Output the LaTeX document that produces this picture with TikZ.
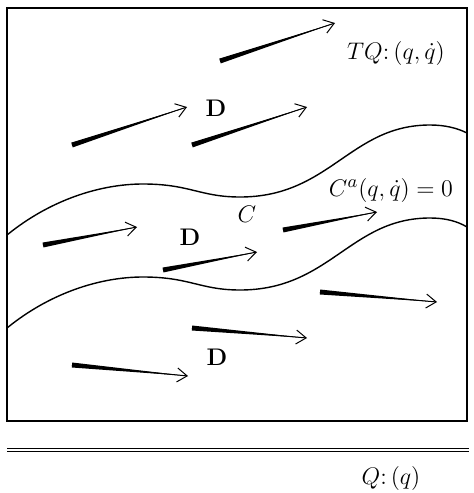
\documentclass[tikz,border=0pt]{standalone}
\usetikzlibrary{calc,arrows.meta}
\begin{document}
\begin{tikzpicture}[x=0.5pt,y=-0.5pt,every node/.style={font=\fontsize{13}{15}\selectfont}]
    \useasboundingbox (0,0) rectangle (474,493);

    % 绘制外框
    \draw[line width=1pt] (7,8) rectangle (467,421);

    % 绘制两条曲线
    \draw[line width=0.7pt] (7,235) .. controls (50,200) and (100,184) .. (143,184)
        .. controls (190,184) and (200,197) .. (240,197)
        .. controls (330,197) and (350,125) .. (430,125) .. controls (445,125) and (457,128) .. (467,133);
    \draw[line width=0.7pt] (7,328) .. controls (50,293) and (100,277) .. (143,277)
        .. controls (190,277) and (200,290) .. (240,290)
        .. controls (330,290) and (350,218) .. (430,218) .. controls (445,218) and (457,221) .. (467,227);

    % 箭头端点
    \coordinate (t1) at (220,61);  \coordinate (h1) at (335,23);
    \coordinate (t2) at (72,145);  \coordinate (h2) at (187,107);
    \coordinate (t3) at (192,145); \coordinate (h3) at (307,107);
    \coordinate (t4) at (43,245);  \coordinate (h4) at (137,227);
    \coordinate (t5) at (163,270); \coordinate (h5) at (257,252);
    \coordinate (t6) at (283,230); \coordinate (h6) at (377,212);
    \coordinate (t7) at (320,292); \coordinate (h7) at (437,302);
    \coordinate (t8) at (192,328); \coordinate (h8) at (307,338);
    \coordinate (t9) at (72,365);  \coordinate (h9) at (188,376);

    % 绘制箭头
    \foreach \i in {1,...,9}{
        \fill ($(t\i)!1.25pt!90:(h\i)$) -- ($(t\i)!1.25pt!-90:(h\i)$) -- (h\i) -- cycle;
        \draw[line width=0.5pt,-{Straight Barb[length=5pt,width=7pt]}] (t\i) -- (h\i);
    }

    % 标注
    \node (tq) at (396,53) {$TQ\colon(q,\dot q)$};
    \node (ca) at (391,190) {$C^a(q,\dot q)=0$};
    \node (c) at (247,214) {$C$};
    \node (d1) at (216,108) {$\mathbf{D}$};
    \node (d2) at (190,237) {$\mathbf{D}$};
    \node (d3) at (217,357) {$\mathbf{D}$};

    % 底空间
    \draw[line width=0.7pt,double,double distance=1pt] (7,450) -- (469,450);
    \node (q) at (391,478) {$Q\colon(q)$};
\end{tikzpicture}
\end{document}
